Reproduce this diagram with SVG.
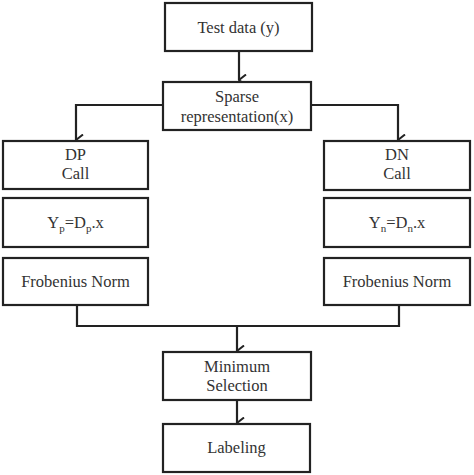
<svg xmlns="http://www.w3.org/2000/svg" width="474" height="475" viewBox="0 0 474 475">
<style>
.box{fill:#fff;stroke:#222;stroke-width:2.2}
.t{font-family:'Liberation Serif','Times New Roman',Times,serif;font-size:16.5px;fill:#333;text-anchor:middle}
.s{font-size:11px}
.c{fill:none;stroke:#222;stroke-width:2.2}
</style>
<defs>
<marker id="ah" viewBox="0 0 12 10" refX="6" refY="9" markerWidth="12" markerHeight="10" markerUnits="userSpaceOnUse" orient="auto-start-reverse">
<polyline points="0.5,2 6,9 11.5,2" fill="none" stroke="#222" stroke-width="2"/>
</marker>
</defs>
<rect width="474" height="475" fill="#fff"/>
<g id="connectors">
<line class="c" x1="239" y1="51" x2="239" y2="80" marker-end="url(#ah)"/>
<polyline class="c" points="163,105 76,105 76,140" marker-end="url(#ah)"/>
<polyline class="c" points="312,105 398,105 398,140" marker-end="url(#ah)"/>
<polyline class="c" points="77,305 77,326 399,326 399,305"/>
<line class="c" x1="237" y1="326" x2="237" y2="351" marker-end="url(#ah)"/>
<line class="c" x1="237" y1="400" x2="237" y2="423" marker-end="url(#ah)"/>
</g>
<g id="test-data"><rect class="box" x="165" y="3" width="147" height="48"/><text class="t" font-family="Liberation Serif, serif" x="238.5" y="33">Test data (y)</text></g>
<g id="sparse"><rect class="box" x="163" y="82" width="148" height="48"/><text class="t" x="237" y="102">Sparse</text><text class="t" x="237" y="122">representation(x)</text></g>
<g id="dp-call"><rect class="box" x="3" y="141" width="145" height="48"/><text class="t" x="75.5" y="160">DP</text><text class="t" x="75.5" y="179">Call</text></g>
<g id="yp"><rect class="box" x="3" y="198" width="145" height="49"/><text class="t" x="75.5" y="228">Y<tspan class="s" dy="4">p</tspan><tspan dy="-4">=D</tspan><tspan class="s" dy="4">p</tspan><tspan dy="-4">.x</tspan></text></g>
<g id="frob-p"><rect class="box" x="3" y="258" width="145" height="47"/><text class="t" x="75.5" y="287">Frobenius Norm</text></g>
<g id="dn-call"><rect class="box" x="324" y="141" width="146" height="49"/><text class="t" x="397" y="160">DN</text><text class="t" x="397" y="179">Call</text></g>
<g id="yn"><rect class="box" x="324" y="198" width="146" height="49"/><text class="t" x="397" y="228">Y<tspan class="s" dy="4">n</tspan><tspan dy="-4">=D</tspan><tspan class="s" dy="4">n</tspan><tspan dy="-4">.x</tspan></text></g>
<g id="frob-n"><rect class="box" x="324" y="258" width="146" height="47"/><text class="t" x="397" y="287">Frobenius Norm</text></g>
<g id="min-sel"><rect class="box" x="163" y="352" width="148" height="48"/><text class="t" x="237" y="372">Minimum</text><text class="t" x="237" y="391">Selection</text></g>
<g id="labeling"><rect class="box" x="163" y="424" width="147" height="48"/><text class="t" x="236.5" y="453">Labeling</text></g>
</svg>
